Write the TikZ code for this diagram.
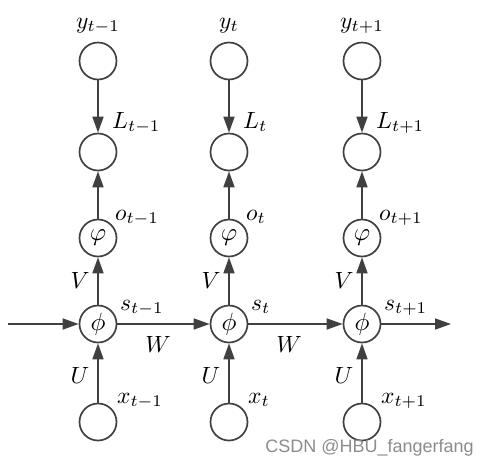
\documentclass[tikz,border=0pt]{standalone}
\usepackage{graphicx}
\usepackage{fontspec}
\newfontfamily\wmfont{Liberation Sans}
\usetikzlibrary{arrows.meta}
\definecolor{ink}{HTML}{404040}
\newcommand{\labm}[1]{\scalebox{2.35}{$#1$}}
\newcommand{\symm}[1]{\scalebox{2.5}{$#1$}}
\begin{document}
\begin{tikzpicture}[x=1pt,y=-1pt,
  unit/.style={circle,draw=ink,line width=1.7pt,minimum size=37pt,inner sep=0pt},
  lab/.style={inner sep=0pt,text=black},
  conn/.style={draw=ink,line width=1.7pt,-{Triangle[length=16pt,width=11pt]}}]
\useasboundingbox (0,0) rectangle (488,467);
\foreach \c/\x/\s in {a/98/{t-1},b/229/t,c/362/{t+1}}{
  \node[unit] (y\c) at (\x,61) {};
  \node[unit] (L\c) at (\x,152) {};
  \node[unit] (o\c) at (\x,238) {\symm{\varphi}};
  \node[unit] (h\c) at (\x,324) {\symm{\phi}};
  \node[unit] (x\c) at (\x,422) {};
  \node[lab,anchor=base] (ly\c) at (\x,28) {\labm{y_{\s}}};
  \node[lab,anchor=base west] (lL\c) at (\x+14,128) {\labm{L_{\s}}};
  \node[lab,anchor=base west] (lo\c) at (\x+17,220) {\labm{o_{\s}}};
  \node[lab,anchor=base] (lV\c) at (\x-18,288) {\labm{V}};
  \node[lab,anchor=base west] (ls\c) at (\x+22,310) {\labm{s_{\s}}};
  \node[lab,anchor=base] (lU\c) at (\x-18,383) {\labm{U}};
  \node[lab,anchor=base west] (lx\c) at (\x+19,403) {\labm{x_{\s}}};
  \draw[conn] (y\c) -- (L\c);
  \draw[conn] (o\c) -- (L\c);
  \draw[conn] (h\c) -- (o\c);
  \draw[conn] (x\c) -- (h\c);
}
\coordinate (in) at (8,324);
\coordinate (out) at (451,324);
\draw[conn] (in) -- (ha);
\draw[conn] (ha) -- (hb);
\draw[conn] (hb) -- (hc);
\draw[conn] (hc) -- (out);
\node[lab,anchor=base] (W1) at (158,352) {\labm{W}};
\node[lab,anchor=base] (W2) at (289,352) {\labm{W}};
\node[anchor=base east,inner sep=0pt,text=black!45,font=\wmfont\fontsize{18}{20}\selectfont] (wm) at (474,452) {CSDN @HBU\_fangerfang};
\end{tikzpicture}
\end{document}
